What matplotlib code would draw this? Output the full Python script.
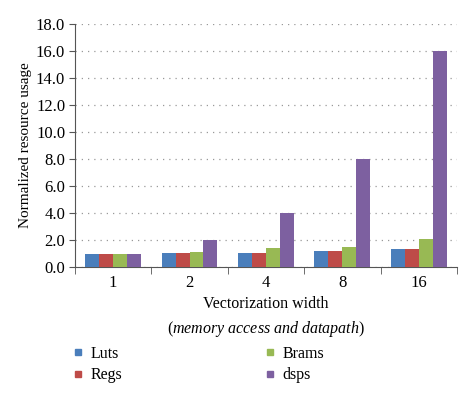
import numpy as np
import matplotlib.pyplot as plt
from matplotlib.lines import Line2D

plt.rcParams['font.family'] = 'Liberation Serif'
plt.rcParams['mathtext.fontset'] = 'custom'
plt.rcParams['mathtext.rm'] = 'Liberation Serif'
plt.rcParams['mathtext.it'] = 'Liberation Serif:italic'

# Data
widths = ['1', '2', '4', '8', '16']
luts = [1.0, 1.04, 1.06, 1.18, 1.31]
regs = [1.0, 1.04, 1.06, 1.17, 1.31]
brams = [1.0, 1.13, 1.41, 1.51, 2.07]
dsps = [1.0, 2.0, 4.0, 8.0, 16.0]
series = ['Luts', 'Regs', 'Brams', 'dsps']
colors = ['#4a7ebb', '#be4b48', '#98b954', '#7d60a0']

fig = plt.figure(figsize=(4.74, 3.98), dpi=100)
ax = fig.add_axes([0.158, 0.329, 0.806, 0.611])

x = np.arange(len(widths))
bw = 0.183
for i, vals in enumerate([luts, regs, brams, dsps]):
    ax.bar(x + (i - 1.5) * bw, vals, bw, color=colors[i], zorder=3)

ax.set_xlim(-0.5, len(widths) - 0.5)
ax.set_ylim(0, 18)
ax.set_yticks(np.arange(0, 18.1, 2))
ax.set_yticklabels(['%.1f' % v for v in np.arange(0, 18.1, 2)])
ax.yaxis.grid(True, linestyle=(0, (1, 4)), color='#999999', linewidth=0.9, zorder=0)

# category labels, ticks at boundaries
ax.set_xticks(x)
ax.set_xticklabels(widths)
ax.tick_params(axis='x', length=0, pad=6)
ax.set_xticks(np.arange(-0.5, len(widths)), minor=True)
ax.tick_params(axis='x', which='minor', length=5, color='#555555')
ax.tick_params(axis='y', length=4, color='#555555', pad=3)
ax.tick_params(labelsize=12)

for s in ['top', 'right']:
    ax.spines[s].set_visible(False)
for s in ['left', 'bottom']:
    ax.spines[s].set_color('#555555')

ax.set_ylabel('Normalized resource usage', fontsize=11, labelpad=3)
ax.set_xlabel('Vectorization width\n(' + r'$\mathit{memory\ access\ and\ datapath}$' + ')',
              fontsize=11.5, labelpad=3, linespacing=1.5)

handles = [Line2D([], [], marker='s', linestyle='none', color=c, markersize=5) for c in colors]
fig.legend(handles, series, ncol=2, loc='upper left', bbox_to_anchor=(0.118, 0.168),
           frameon=False, fontsize=11.5, handletextpad=0.3, columnspacing=8.7,
           labelspacing=0.35, handlelength=1.0)

plt.savefig('out.png', dpi=100)
